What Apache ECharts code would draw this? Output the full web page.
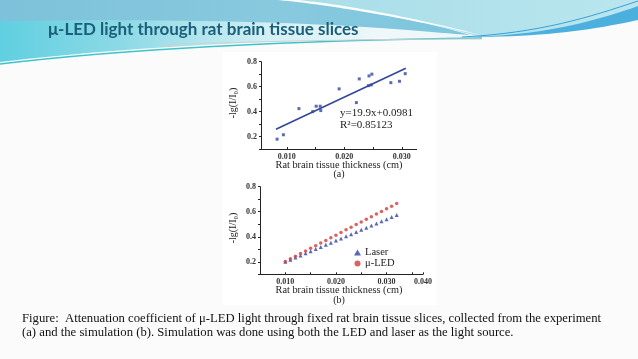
<!DOCTYPE html>
<html><head><meta charset="utf-8">
<script src="https://cdn.jsdelivr.net/npm/echarts@6/dist/echarts.min.js"></script>
<style>html,body{margin:0;padding:0;background:#fbfbfb}#c{width:638px;height:359px}</style>
</head><body><div id="c"></div><script>
// ---- texts ----
const titleText = 'μ-LED light through rat brain tissue slices';
const captionLines = [
  'Figure:  Attenuation coefficient of μ-LED light through fixed rat brain tissue slices, collected from the experiment',
  '(a) and the simulation (b). Simulation was done using both the LED and laser as the light source.'
];
const xAxisTitle = 'Rat brain tissue thickness (cm)';
const yAxisTitle = '-lg(I/I₀)';
const fitEquation = 'y=19.9x+0.0981';
const fitR2 = 'R²=0.85123';
// ---- (a) experiment ----
const expThickness   = [0.0083,0.0094,0.0121,0.0145,0.0151,0.0158,0.0159,0.0191,0.0221,0.0226,0.0242,0.0243,0.0247,0.0248,0.0281,0.0296,0.0306];
const expAttenuation = [0.179, 0.214, 0.424, 0.400, 0.443, 0.443, 0.408, 0.582, 0.472, 0.662, 0.608, 0.686, 0.614, 0.700, 0.632, 0.643, 0.704];
const fitThickness   = [0.0081, 0.0307];
const fitAttenuation = [0.259, 0.747];
const xTickLabelsA = ['0.010','0.020','0.030'];
// ---- (b) simulation ----
const simThickness = [0.010,0.011,0.012,0.013,0.014,0.015,0.016,0.017,0.018,0.019,0.020,0.021,0.022,0.023,0.024,0.025,0.026,0.027,0.028,0.029,0.030,0.031,0.032];
const laserValues  = [0.200,0.217,0.234,0.251,0.268,0.285,0.302,0.319,0.336,0.353,0.370,0.387,0.404,0.421,0.438,0.455,0.472,0.489,0.506,0.523,0.540,0.557,0.574];
const ledValues    = [0.203,0.224,0.245,0.266,0.287,0.308,0.329,0.350,0.371,0.392,0.413,0.434,0.455,0.476,0.497,0.518,0.539,0.560,0.581,0.602,0.623,0.644,0.665];
const xTickLabelsB = ['0.010','0.020','0.030','0.040'];
const yTickLabels = ['0.2','0.4','0.6','0.8'];

const serif = '"Liberation Serif", "DejaVu Serif", serif';
const axisLine = {show:true, lineStyle:{color:'#222', width:1}};
const tickLbl = {fontFamily: serif, fontSize: 8, fontWeight:'bold', color:'#333'};
function pick(list){ return v => { const s = v.toFixed(list[0].length-2); return list.indexOf(s) >= 0 ? s : ''; }; }

// decoration helpers (slide header shapes)
function bez(p0,p1,p2,p3,n){
  const out=[]; for(let i=0;i<=n;i++){const t=i/n,u=1-t;
    out.push([u*u*u*p0[0]+3*u*u*t*p1[0]+3*u*t*t*p2[0]+t*t*t*p3[0], u*u*u*p0[1]+3*u*u*t*p1[1]+3*u*t*t*p2[1]+t*t*t*p3[1]]);}
  return out;
}
const baseEdge = bez([0,62],[150,44],[330,38],[480,37],30).concat(bez([480,37],[550,36],[595,25],[638,14],20));
const basePts = baseEdge.concat([[638,0],[0,0]]);
const bluePts = [[0,0]].concat(bez([285,0],[345,6],[420,20],[470,35],30), bez([470,35],[400,30],[300,17],[0,21],30));
const aquaPts = bez([285,0],[345,6],[420,20],[480,37],30).concat(bez([480,37],[550,35],[595,22],[638,8],20), [[638,0]]);
const whitePts = bez([278,0],[340,6],[420,21],[488,37],30).concat(bez([488,37],[425,20],[350,5],[298,0],30));
const bandPts = bez([468,37],[545,35],[592,22],[638,6],20).concat(bez([638,20],[592,30],[545,37],[468,37],20));
function curve(p0,p1,p2,p3,color,w){
  return {type:'bezierCurve', z:-7, shape:{x1:p0[0],y1:p0[1],cpx1:p1[0],cpy1:p1[1],cpx2:p2[0],cpy2:p2[1],x2:p3[0],y2:p3[1]},
          style:{fill:null, stroke:color, lineWidth:w}};
}

const chart = echarts.init(document.getElementById('c'), null, {renderer:'canvas'});
const xMaxB = 0.0372;
const option = {
  backgroundColor: '#fbfbfb',
  animation: false,
  grid: [
    {left: 261, top: 61.7, width: 155.7, height: 87.3},
    {left: 260, top: 186.7, width: 163, height: 87.6}
  ],
  xAxis: [
    {gridIndex:0, type:'value', min:0.0055, max:0.0326, minInterval:0.005, maxInterval:0.005, splitLine:{show:false}, axisLine,
     axisTick:{show:true, inside:true, length:2, lineStyle:{color:'#222'}},
     axisLabel:{...tickLbl, margin:4, showMinLabel:false, showMaxLabel:false, formatter: pick(xTickLabelsA)}},
    {gridIndex:1, type:'value', min:0.005, max:xMaxB, interval:0.005, splitLine:{show:false}, axisLine,
     axisTick:{show:true, inside:true, length:2, lineStyle:{color:'#222'}},
     axisLabel:{...tickLbl, margin:4, showMinLabel:false, showMaxLabel:true,
       formatter: v => v >= xMaxB - 1e-9 ? xTickLabelsB[3] : pick(xTickLabelsB)(v)}}
  ],
  yAxis: [
    {gridIndex:0, type:'value', min:0.1, max:0.8, interval:0.1, splitLine:{show:false}, axisLine,
     axisTick:{show:true, length:2, lineStyle:{color:'#222'}},
     axisLabel:{...tickLbl, margin:4, formatter: pick(yTickLabels)}},
    {gridIndex:1, type:'value', min:0.1, max:0.8, interval:0.1, splitLine:{show:false}, axisLine,
     axisTick:{show:true, length:2, lineStyle:{color:'#222'}},
     axisLabel:{...tickLbl, margin:4, formatter: pick(yTickLabels)}}
  ],
  legend: {
    data: ['Laser','μ-LED'], orient:'vertical', left: 354, top: 247, itemWidth: 7, itemHeight: 6, itemGap: 0,
    padding: 0,
    textStyle: {fontFamily: serif, fontSize: 10.5, lineHeight: 9, color:'#222', padding:[0,0,0,-1]}
  },
  series: [
    {type:'scatter', xAxisIndex:0, yAxisIndex:0, symbol:'rect', symbolSize:3, itemStyle:{color:'#34479a'},
     data: expThickness.map((x,i)=>[x, expAttenuation[i]])},
    {type:'line', xAxisIndex:0, yAxisIndex:0, showSymbol:false, lineStyle:{color:'#34479a', width:1.6},
     data: fitThickness.map((x,i)=>[x, fitAttenuation[i]])},
    {name:'Laser', type:'scatter', xAxisIndex:1, yAxisIndex:1, symbol:'triangle', symbolSize:4, itemStyle:{color:'#2f42a0'},
     data: simThickness.map((x,i)=>[x, laserValues[i]])},
    {name:'μ-LED', type:'scatter', xAxisIndex:1, yAxisIndex:1, symbol:'circle', symbolSize:3.5, itemStyle:{color:'#d6393b'},
     data: simThickness.map((x,i)=>[x, ledValues[i]])}
  ],
  graphic: [
    {type:'polygon', z:-10, shape:{points:basePts},
     style:{fill:{type:'linear',x:0,y:0,x2:1,y2:0,colorStops:[{offset:0,color:'#60cfe0'},{offset:0.2,color:'#8fdae6'},{offset:0.42,color:'#d2eff4'},{offset:0.6,color:'#eef8fa'},{offset:1,color:'#eef8fa'}]}}},
    {type:'polygon', z:-9, shape:{points:bluePts},
     style:{fill:{type:'linear',x:0,y:0,x2:1,y2:0,colorStops:[{offset:0,color:'#7dc2da'},{offset:0.6,color:'#88c9de'},{offset:1,color:'#7cc6de'}]}}},
    {type:'polygon', z:-9, shape:{points:aquaPts},
     style:{fill:{type:'linear',x:0,y:0,x2:1,y2:0,colorStops:[{offset:0,color:'#a8dde8'},{offset:1,color:'#b9e6ee'}]}}},
    {type:'polygon', z:-8, shape:{points:whitePts}, style:{fill:'#ffffff', opacity:0.95}},
    {type:'polygon', z:-8, shape:{points:bandPts}, style:{fill:'#4cb0df'}},
    curve([462,37],[540,33],[590,17],[638,1],'#3b9fd6',1),
    curve([0,64],[150,46],[330,40],[482,38],'#3cc4cb',1.3),
    curve([160,45],[300,40],[400,39],[482,39],'#cfcfcf',1),
    {type:'rect', z:-6, shape:{x:223, y:52, width:214, height:253}, style:{fill:'#ffffff'}},
    {type:'text', x:48, y:30, style:{text:titleText, font:'bold 17px Lato, "Open Sans", sans-serif', fill:'#1b5e79', align:'left', verticalAlign:'middle'}},
    {type:'text', x:22, y:318.5, style:{text:captionLines[0], font:'12.7px ' + serif, fill:'#111', align:'left', verticalAlign:'middle'}},
    {type:'text', x:22, y:332.5, style:{text:captionLines[1], font:'12.7px ' + serif, fill:'#111', align:'left', verticalAlign:'middle'}},
    {type:'text', x:233, y:103, rotation:Math.PI/2, style:{text:yAxisTitle, font:'10px ' + serif, fill:'#222', align:'center', verticalAlign:'middle'}},
    {type:'text', x:339, y:165, style:{text:xAxisTitle, font:'10.3px ' + serif, fill:'#222', align:'center', verticalAlign:'middle'}},
    {type:'text', x:339, y:174, style:{text:'(a)', font:'10px ' + serif, fill:'#222', align:'center', verticalAlign:'middle'}},
    {type:'text', x:340, y:113, style:{text:fitEquation, font:'11px ' + serif, fill:'#222', align:'left', verticalAlign:'middle'}},
    {type:'text', x:340, y:125, style:{text:fitR2, font:'11px ' + serif, fill:'#222', align:'left', verticalAlign:'middle'}},
    {type:'text', x:233, y:228, rotation:Math.PI/2, style:{text:yAxisTitle, font:'10px ' + serif, fill:'#222', align:'center', verticalAlign:'middle'}},
    {type:'text', x:339, y:290, style:{text:xAxisTitle, font:'10.3px ' + serif, fill:'#222', align:'center', verticalAlign:'middle'}},
    {type:'text', x:339, y:300, style:{text:'(b)', font:'10px ' + serif, fill:'#222', align:'center', verticalAlign:'middle'}}
  ]
};
chart.setOption(option);
</script></body></html>
